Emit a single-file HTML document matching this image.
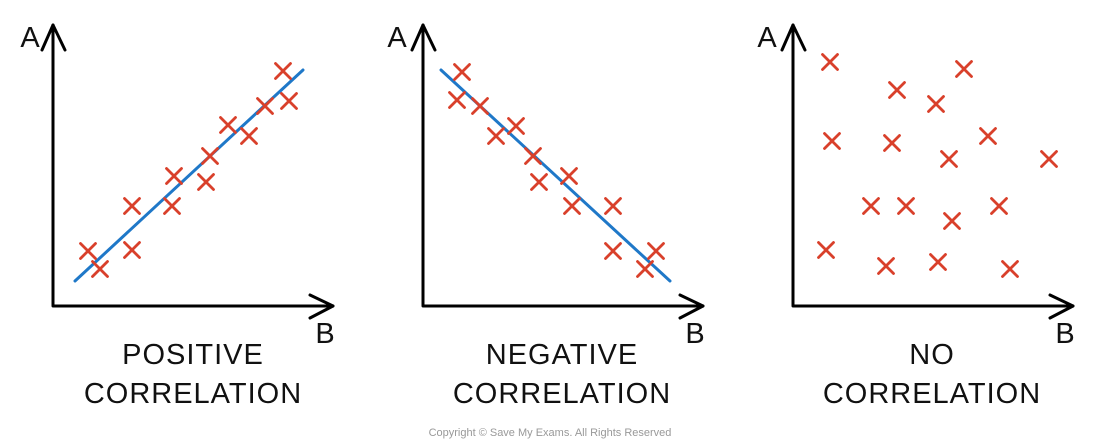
<!DOCTYPE html>
<html><head><style>body{margin:0;background:#fff}svg{display:block}</style></head><body>
<svg width="1100" height="448" viewBox="0 0 1100 448" xmlns="http://www.w3.org/2000/svg">
<defs>
<g id="x"><path d="M-7.5,-7.5L7.5,7.5M7.5,-7.5L-7.5,7.5" stroke="#d9402b" stroke-width="2.8" stroke-linecap="round"/></g>
<g id="ax" fill="none" stroke="#000" stroke-width="3" stroke-linecap="round" stroke-linejoin="round">
<path d="M53,25V306H333"/><path d="M42,50L53,25L65,50"/><path d="M310,295L333,306L310,318"/>
</g>
</defs>
<g font-family="Liberation Sans, sans-serif" font-size="29" fill="#111" text-anchor="middle">
<use href="#ax"/>
<text x="30" y="47">A</text><text x="325" y="343">B</text>
<text x="193" y="364" letter-spacing="1">POSITIVE</text><text x="193" y="403" letter-spacing="1">CORRELATION</text>
<line x1="75" y1="281" x2="303" y2="70" stroke="#1f78c8" stroke-width="3" stroke-linecap="round"/>
<use href="#x" x="88" y="251"/><use href="#x" x="100" y="269"/><use href="#x" x="132" y="206"/><use href="#x" x="132" y="250"/><use href="#x" x="174" y="176"/><use href="#x" x="172" y="206"/><use href="#x" x="210" y="156"/><use href="#x" x="206" y="182"/><use href="#x" x="228" y="125"/><use href="#x" x="249" y="136"/><use href="#x" x="265" y="106"/><use href="#x" x="283" y="71"/><use href="#x" x="289" y="101"/>

<use href="#ax" x="370"/>
<text x="397" y="47">A</text><text x="695" y="343">B</text>
<text x="562" y="364" letter-spacing="1">NEGATIVE</text><text x="562" y="403" letter-spacing="1">CORRELATION</text>
<line x1="441" y1="70" x2="670" y2="281" stroke="#1f78c8" stroke-width="3" stroke-linecap="round"/>
<use href="#x" x="462" y="72"/><use href="#x" x="457" y="100"/><use href="#x" x="480" y="106"/><use href="#x" x="496" y="136"/><use href="#x" x="516" y="126"/><use href="#x" x="533" y="156"/><use href="#x" x="539" y="182"/><use href="#x" x="569" y="176"/><use href="#x" x="572" y="206"/><use href="#x" x="613" y="206"/><use href="#x" x="613" y="251"/><use href="#x" x="656" y="251"/><use href="#x" x="645" y="269"/>

<use href="#ax" x="740"/>
<text x="767" y="47">A</text><text x="1065" y="343">B</text>
<text x="932" y="364" letter-spacing="1">NO</text><text x="932" y="403" letter-spacing="1">CORRELATION</text>
<use href="#x" x="830" y="62"/><use href="#x" x="897" y="90"/><use href="#x" x="964" y="69"/><use href="#x" x="936" y="104"/><use href="#x" x="832" y="141"/><use href="#x" x="892" y="143"/><use href="#x" x="988" y="136"/><use href="#x" x="949" y="159"/><use href="#x" x="1049" y="159"/><use href="#x" x="871" y="206"/><use href="#x" x="906" y="206"/><use href="#x" x="952" y="221"/><use href="#x" x="999" y="206"/><use href="#x" x="826" y="250"/><use href="#x" x="886" y="266"/><use href="#x" x="938" y="262"/><use href="#x" x="1010" y="269"/>
<text x="550" y="436" font-size="11" fill="#999">Copyright © Save My Exams. All Rights Reserved</text>
</g>
</svg>
</body></html>
